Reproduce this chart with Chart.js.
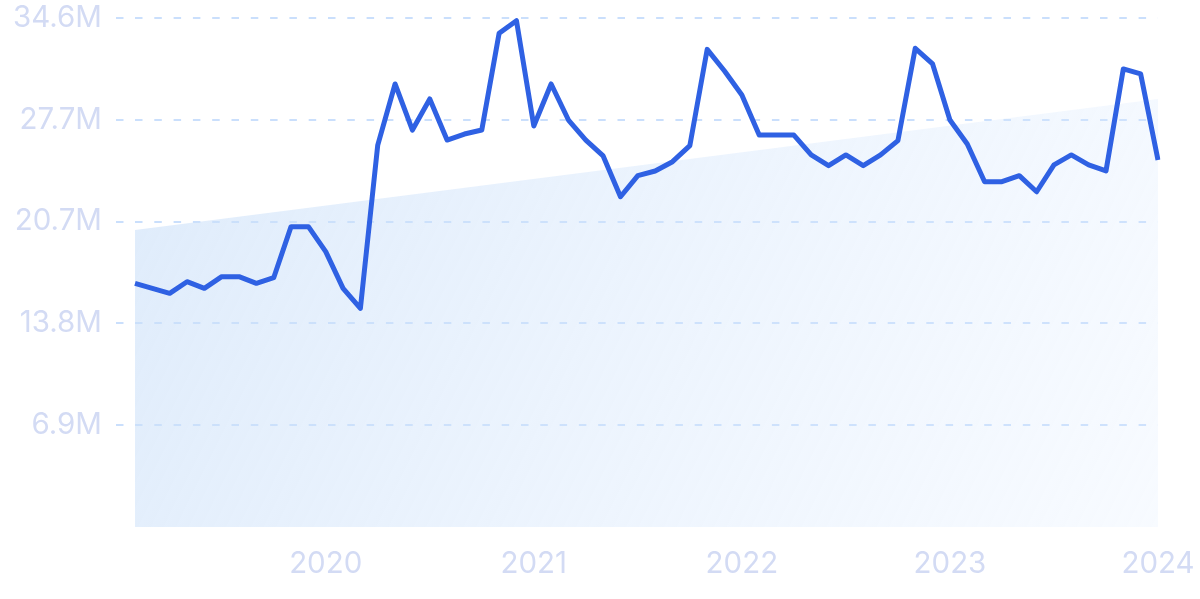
<!DOCTYPE html>
<html>
<head>
<meta charset="utf-8">
<script src="https://cdn.jsdelivr.net/npm/chart.js@4"></script>
<style>
  html, body { margin: 0; padding: 0; background: #ffffff; }
  #wrap { width: 1200px; height: 599px; position: relative; }
</style>
</head>
<body>
<div id="wrap"><canvas id="c"></canvas></div>
<script>
// Months Feb 2019 .. Jan 2024
const months = [
  '2019-02','2019-03','2019-04','2019-05','2019-06','2019-07','2019-08','2019-09','2019-10','2019-11','2019-12',
  '2020-01','2020-02','2020-03','2020-04','2020-05','2020-06','2020-07','2020-08','2020-09','2020-10','2020-11','2020-12',
  '2021-01','2021-02','2021-03','2021-04','2021-05','2021-06','2021-07','2021-08','2021-09','2021-10','2021-11','2021-12',
  '2022-01','2022-02','2022-03','2022-04','2022-05','2022-06','2022-07','2022-08','2022-09','2022-10','2022-11','2022-12',
  '2023-01','2023-02','2023-03','2023-04','2023-05','2023-06','2023-07','2023-08','2023-09','2023-10','2023-11','2023-12',
  '2024-01'
];
// values in millions
const searches = [
  16.55, 16.2, 15.87, 16.66, 16.21, 17.0, 17.0, 16.55, 16.93, 20.4, 20.4,
  18.7, 16.21, 14.85, 25.94, 30.09, 26.96, 29.07, 26.28, 26.69, 26.96, 33.53, 34.39,
  27.24, 30.09, 27.64, 26.28, 25.2, 22.43, 23.86, 24.18, 24.81, 25.9, 32.44, 30.97,
  29.34, 26.62, 26.62, 26.62, 25.27, 24.54, 25.27, 24.54, 25.27, 26.24, 32.51, 31.45,
  27.64, 26.01, 23.45, 23.45, 23.86, 22.77, 24.59, 25.27, 24.59, 24.18, 31.11, 30.77,
  24.93
];
const trendStart = 20.17;
const trendEnd = 29.07;
const yTickLabels = ['', '6.9M', '13.8M', '20.7M', '27.7M', '34.6M'];
const yMax = 34.57;

const trendData = [
  { x: months[0], y: trendStart },
  { x: months[months.length - 1], y: trendEnd }
];

const labelColor = '#d3dbf4';
const gridColor = '#cadffc';

new Chart(document.getElementById('c'), {
  type: 'line',
  data: {
    labels: months,
    datasets: [
      {
        label: 'Searches',
        data: searches,
        borderColor: '#2f61e3',
        borderWidth: 5,
        borderJoinStyle: 'round',
        pointRadius: 0,
        tension: 0,
        fill: false,
        order: 0
      },
      {
        label: 'Trend',
        data: trendData,
        borderWidth: 0,
        borderColor: 'rgba(0,0,0,0)',
        pointRadius: 0,
        spanGaps: true,
        fill: 'origin',
        order: 1,
        backgroundColor: (ctx) => {
          const area = ctx.chart.chartArea;
          if (!area) return 'rgba(210,228,250,0.6)';
          const g = ctx.chart.ctx.createLinearGradient(area.left, area.top, area.right, area.bottom);
          g.addColorStop(0, 'rgba(200,222,248,0.62)');
          g.addColorStop(1, 'rgba(220,235,255,0.22)');
          return g;
        }
      }
    ]
  },
  options: {
    responsive: true,
    maintainAspectRatio: false,
    animation: false,
    layout: { padding: { top: 18, right: 42, left: 0, bottom: 0 } },
    plugins: { legend: { display: false }, tooltip: { enabled: false } },
    scales: {
      x: {
        type: 'category',
        offset: false,
        grid: { display: false, drawTicks: false },
        border: { display: false },
        ticks: {
          autoSkip: false,
          maxRotation: 0,
          minRotation: 0,
          padding: 19,
          color: labelColor,
          font: { family: 'Inter', size: 29.5 },
          callback: function (value, index) {
            const m = months[index];
            return m.endsWith('-01') ? m.slice(0, 4) : '';
          }
        },
        afterFit: (s) => { s.height = 72; s.paddingLeft = 0; s.paddingRight = 0; }
      },
      y: {
        min: 0,
        max: yMax,
        border: { display: false },
        grid: {
          color: (c) => (c.index === 0 ? 'rgba(0,0,0,0)' : gridColor),
          lineWidth: 2,
          tickLength: 19,
          drawTicks: true,
          tickColor: (c) => (c.index === 0 ? 'rgba(0,0,0,0)' : gridColor),
          tickWidth: 2
        },
        ticks: {
          stepSize: yMax / 5,
          padding: 14,
          color: labelColor,
          font: { family: 'Inter', size: 29.5 },
          callback: function (value, index) { return yTickLabels[index]; }
        },
        afterFit: (s) => { s.width = 135; s.paddingTop = 0; s.paddingBottom = 0; }
      }
    }
  },
  plugins: [{
    id: 'dashGrid',
    beforeDraw(chart) {
      const ys = chart.scales.y;
      ys.options.grid.tickBorderDash = [7.5, 11.8];
      ys.options.border.dash = [7.5, 11.8];
    }
  }]
});
</script>
</body>
</html>
